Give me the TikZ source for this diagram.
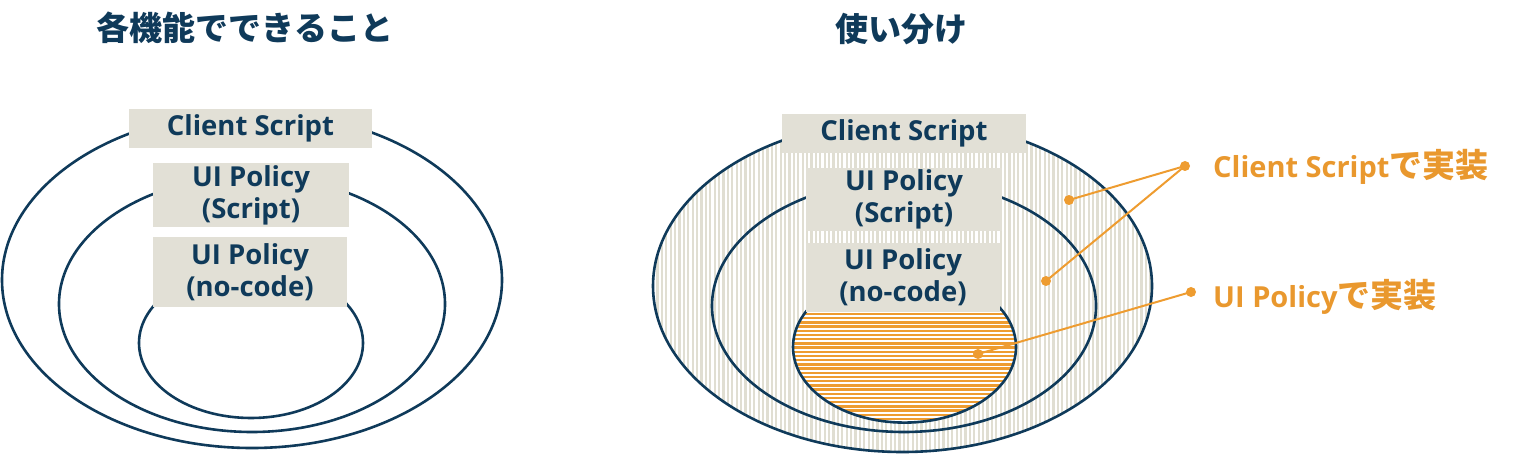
\documentclass[tikz,border=0pt]{standalone}
\usepackage{fontspec}
\setmainfont{Noto Sans CJK JP}
\newfontfamily\latinfont{Open Sans}
\definecolor{navy}{HTML}{0F3A5A}
\definecolor{boxfill}{HTML}{E2E0D6}
\definecolor{stripec}{HTML}{E0DED2}
\definecolor{orng}{HTML}{EE9C30}
\definecolor{orngtext}{HTML}{E9982E}
\tikzset{
  ring/.style={draw=navy, line width=2.6pt},
  boxnode/.style={fill=boxfill, text=navy, font=\latinfont\bfseries\fontsize{27.5}{32}\selectfont, align=center, inner sep=0pt},
  titlenode/.style={text=navy, font=\bfseries\fontsize{33}{38}\selectfont, inner sep=0pt},
  labelnode/.style={text=orngtext, font=\bfseries, inner sep=0pt, anchor=west},
  vstripe/.style={draw=stripec, line width=2.2pt},
  hstripe/.style={draw=orng, line width=2.4pt},
  lead/.style={draw=orng, line width=2pt},
  dotnode/.style={circle, fill=orng, inner sep=0pt, minimum size=10pt}
}
\newcommand{\latinpart}[1]{{\latinfont\bfseries\fontsize{29}{34}\selectfont #1}}
\newcommand{\kanapart}[1]{{\bfseries\fontsize{33}{38}\selectfont #1}}
\begin{document}
\begin{tikzpicture}[x=1pt,y=-1pt]
\useasboundingbox (0,0) rectangle (1536,454);

% titles
\node[titlenode] (t1) at (245,28) {各機能でできること};
\node[titlenode] (t2) at (901,29) {使い分け};

% ---------- left diagram ----------
\draw[ring] (252,280) ellipse [x radius=250pt, y radius=168pt];
\draw[ring] (252,304) ellipse [x radius=193pt, y radius=128pt];
\draw[ring] (251,343) ellipse [x radius=112pt, y radius=75pt];
\node[boxnode, minimum width=243pt, minimum height=39pt] (lcs) at (250.5,128.5) {Client Script};
\node[boxnode, minimum width=196pt, minimum height=64pt] (lsc) at (251,195) {UI Policy\\(Script)};
\node[boxnode, minimum width=194pt, minimum height=70pt] (lnc) at (250,272) {UI Policy\\(no-code)};

% ---------- right diagram ----------
\begin{scope}
  \clip (902.5,286) ellipse [x radius=249.5pt, y radius=166pt];
  \foreach \i in {0,...,115} {
    \draw[vstripe] ({653+\i*4.4},110) -- ({653+\i*4.4},460);
  }
\end{scope}
\fill[white] (904.5,347) ellipse [x radius=111.5pt, y radius=75.6pt];
\begin{scope}
  \clip (904.5,347) ellipse [x radius=111.5pt, y radius=75.6pt];
  \foreach \j in {0,...,40} {
    \draw[hstripe] (780,{272+\j*4.2}) -- (1030,{272+\j*4.2});
  }
\end{scope}
\draw[ring] (902.5,286) ellipse [x radius=249.5pt, y radius=166pt];
\draw[ring] (904,306) ellipse [x radius=192pt, y radius=126pt];
\draw[ring] (904.5,347) ellipse [x radius=111.5pt, y radius=75.6pt];
\node[boxnode, minimum width=244pt, minimum height=39pt] (rcs) at (904,133.5) {Client Script};
\node[boxnode, minimum width=196pt, minimum height=63pt] (rsc) at (904,199.5) {UI Policy\\(Script)};
\node[boxnode, minimum width=194pt, minimum height=69pt] (rnc) at (903,277.5) {UI Policy\\(no-code)};

% ---------- callouts ----------
\node[dotnode] (d1) at (1185,166) {};
\node[dotnode] (d1a) at (1069,200) {};
\node[dotnode] (d1b) at (1046,281) {};
\node[dotnode] (d2) at (1191,292) {};
\node[dotnode] (d2a) at (978,354) {};
\draw[lead] (d1.center) -- (d1a.center);
\draw[lead] (d1.center) -- (d1b.center);
\draw[lead] (d2.center) -- (d2a.center);
\node[labelnode] (l1) at (1213,167) {\latinpart{Client Script}\kanapart{で実装}};
\node[labelnode] (l2) at (1213,297) {\latinpart{UI Policy}\kanapart{で実装}};
\end{tikzpicture}
\end{document}
